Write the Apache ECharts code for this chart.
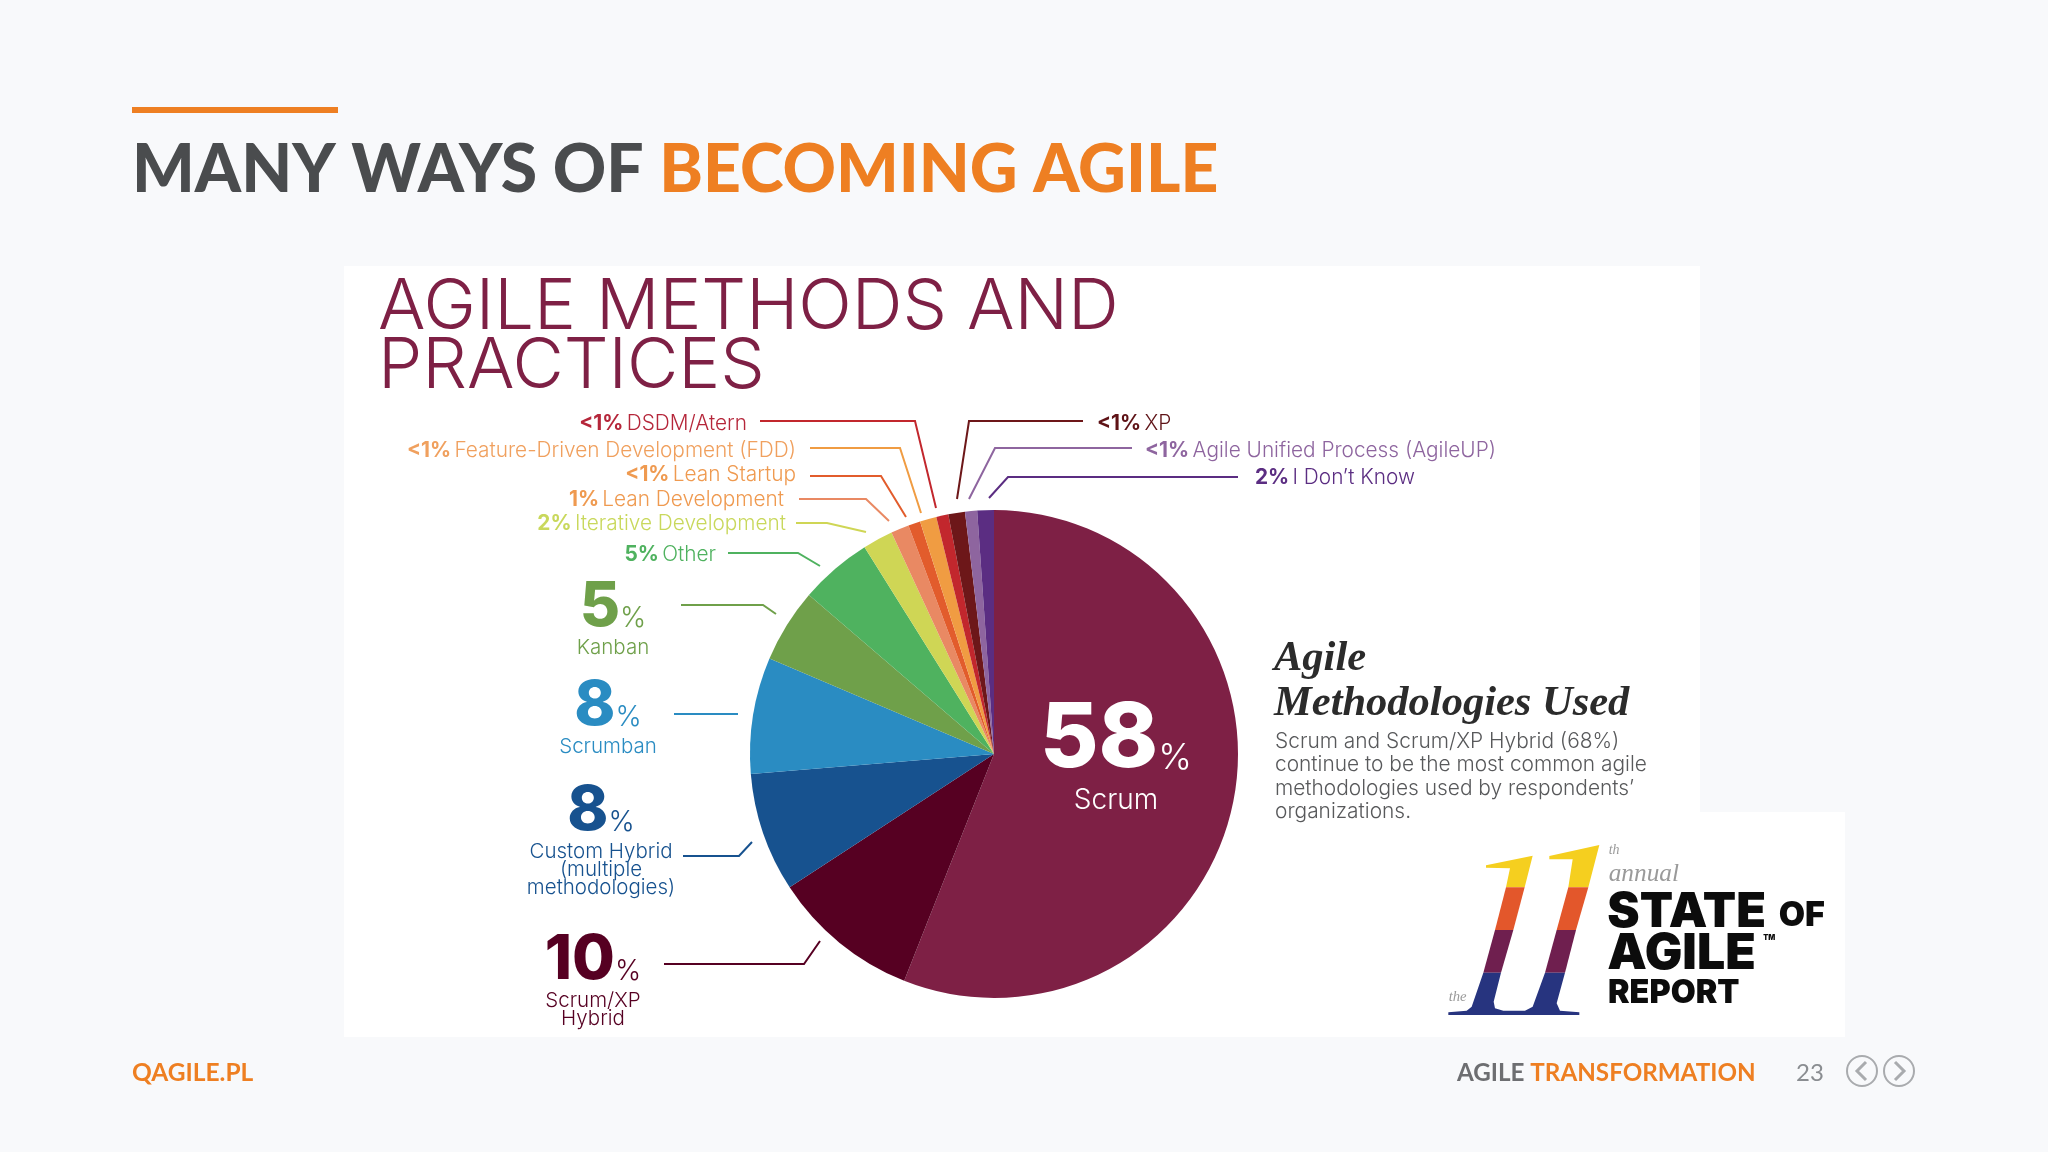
<!DOCTYPE html>
<html>
<head>
<meta charset="utf-8">
<title>Many ways of becoming agile</title>
<script src="https://cdn.jsdelivr.net/npm/echarts@6/dist/echarts.min.js"></script>
<style>
  html, body { margin: 0; padding: 0; background: #f8f9fb; }
  #chart-container { width: 2048px; height: 1152px; }
</style>
</head>
<body>
<div id="chart-container"></div>
<script>
// slices clockwise from 12 o'clock
var methods = ["Scrum", "Scrum/XP Hybrid", "Custom Hybrid", "Scrumban", "Kanban", "Other",
  "Iterative Development", "Lean Development", "Lean Startup", "Feature-Driven Development (FDD)",
  "DSDM/Atern", "XP", "Agile Unified Process (AgileUP)", "I Don\u2019t Know"];
// share of the circle as drawn (the drawn arcs differ a bit from the printed numbers)
var drawnShare = [56.0, 9.8, 7.9, 7.7, 4.9, 4.8, 2.0, 1.2, 0.8, 1.1, 0.8, 1.1, 0.8, 1.1];
var printedValue = ["58", "10", "8", "8", "5", "5%", "2%", "1%", "<1%", "<1%", "<1%", "<1%", "<1%", "2%"];
var sliceColors = ["#7e2045", "#560022", "#17528f", "#2a8cc2", "#6fa04a", "#4fb25f", "#cfd655",
  "#e98963", "#e25c2c", "#f09c42", "#c2272d", "#6d1719", "#8e659f", "#5b2d82"];
var textColors = ["#ffffff", "#560022", "#17528f", "#2a8cc2", "#6fa04a", "#4fb25f", "#c9d85c",
  "#ef9a50", "#ef9a50", "#f0a05e", "#b5263a", "#5e1216", "#8e659f", "#5b2d82"];

// label anchors and leader lines, same order as the slices
var labelPos = [
  { x: 1116, y: 755, align: "center" },
  { x: 593, y: 978, align: "center" },
  { x: 601, y: 838, align: "center" },
  { x: 608, y: 715, align: "center" },
  { x: 613, y: 616, align: "center" },
  { x: 716, y: 555, align: "right" },
  { x: 786, y: 524, align: "right" },
  { x: 784, y: 500, align: "right" },
  { x: 796, y: 475, align: "right" },
  { x: 796, y: 451, align: "right" },
  { x: 747, y: 424, align: "right" },
  { x: 1097, y: 424, align: "left" },
  { x: 1145, y: 451, align: "left" },
  { x: 1255, y: 478, align: "left" }
];
var leaders = [
  null,
  [[664, 964], [804, 964], [820, 941]],
  [[683, 856], [739, 856], [752, 842]],
  [[674, 714], [706, 714], [738, 714]],
  [[681, 605], [763, 605], [776, 614]],
  [[728, 553], [798, 553], [820, 566]],
  [[796, 523], [827, 523], [866, 532]],
  [[799, 499], [866, 499], [889, 521]],
  [[810, 476], [881, 476], [906, 517]],
  [[810, 448], [900, 448], [921, 513]],
  [[760, 421], [915, 421], [936, 508]],
  [[1083, 421], [969, 421], [957, 499]],
  [[1132, 448], [995, 448], [969, 499]],
  [[1238, 477], [1008, 477], [989, 498]]
];

var LABEL_FONT = "Inter";
var dom = document.getElementById("chart-container");
var myChart = echarts.init(dom, null, { renderer: "canvas" });

function labelFor(i) {
  var color = textColors[i];
  if (i === 0) {
    return {
      formatter: "{n|" + printedValue[i] + "}{p|%}\n{t|" + methods[i] + "}",
      rich: {
        n: { fontFamily: LABEL_FONT, fontWeight: 800, fontSize: 90, color: color, lineHeight: 92 },
        p: { fontFamily: LABEL_FONT, fontWeight: 300, fontSize: 36, color: color, verticalAlign: "bottom", padding: [0, 0, 10, 0] },
        t: { fontFamily: LABEL_FONT, fontWeight: 300, fontSize: 28, color: color, lineHeight: 30 }
      }
    };
  }
  if (i < 5) {
    var nameLines = { 1: "Scrum/XP\nHybrid", 2: "Custom Hybrid\n(multiple\nmethodologies)" }[i] || methods[i];
    var nameText = nameLines.split("\n").map(function (s) { return "{t|" + s + "}"; }).join("\n");
    return {
      formatter: "{n|" + printedValue[i] + "}{p|%}\n" + nameText,
      rich: {
        n: { fontFamily: LABEL_FONT, fontWeight: 800, fontSize: 62, color: color, lineHeight: 64 },
        p: { fontFamily: LABEL_FONT, fontWeight: 300, fontSize: 28, color: color, verticalAlign: "bottom", padding: [0, 0, 6, 0] },
        t: { fontFamily: LABEL_FONT, fontWeight: 300, fontSize: 20.5, color: color, lineHeight: 18 }
      }
    };
  }
  return {
    formatter: "{h|" + printedValue[i] + "} {t|" + methods[i] + "}",
    rich: {
      h: { fontFamily: LABEL_FONT, fontWeight: 700, fontSize: 20.8, color: color },
      t: { fontFamily: LABEL_FONT, fontWeight: 300, fontSize: 20.8, color: color }
    }
  };
}

var pieData = methods.map(function (name, i) {
  return {
    name: name,
    value: drawnShare[i],
    itemStyle: { color: sliceColors[i] },
    label: labelFor(i),
    labelLine: {
      show: !!leaders[i],
      lineStyle: { color: sliceColors[i], width: 2 }
    }
  };
});

// logo outline, in 3x coordinates of the logo box
var logoStripes = [
  { color: "#f5cf1f", points: [[258, 196], [398, 167], [374, 262], [318, 262], [330, 205], [258, 203]] },
  { color: "#f5cf1f", points: [[448, 168], [598, 135], [565, 262], [505, 262], [518, 178], [448, 178]] },
  { color: "#e3572b", points: [[318, 262], [374, 262], [340, 390], [285, 390]] },
  { color: "#e3572b", points: [[505, 262], [565, 262], [528, 390], [470, 390]] },
  { color: "#6f1f4f", points: [[285, 390], [340, 390], [303, 518], [250, 518]] },
  { color: "#6f1f4f", points: [[470, 390], [528, 390], [495, 518], [435, 518]] },
  { color: "#27347f", points: [[250, 518], [303, 518], [281, 605], [285, 625], [310, 632], [375, 632], [398, 620],
    [435, 518], [495, 518], [470, 610], [480, 632], [538, 637], [538, 645], [145, 645], [145, 637], [200, 632], [215, 620]] }
];

function logoText(text, x, y, fontSize, fontWeight, font, color, italic) {
  return {
    type: "text", x: x, y: y,
    style: {
      text: text, fill: color, fontFamily: font, fontSize: fontSize, fontWeight: fontWeight,
      fontStyle: italic ? "italic" : "normal", textVerticalAlign: "middle"
    }
  };
}

var logoParts = logoStripes.map(function (s) {
  return { type: "polygon", shape: { points: s.points }, style: { fill: s.color } };
}).concat([
  logoText("th", 626, 150, 42, 400, "Liberation Serif", "#9a9a9a", true),
  logoText("annual", 626, 222, 76, 400, "Liberation Serif", "#9a9a9a", true),
  logoText("the", 146, 592, 44, 400, "Liberation Serif", "#9a9a9a", true),
  logoText("STATE", 622, 336, 146, 900, "Inter", "#0c0c0c"),
  logoText("OF", 1136, 348, 102, 900, "Inter", "#0c0c0c"),
  logoText("AGILE", 622, 463, 150, 900, "Inter", "#0c0c0c"),
  logoText("TM", 1090, 413, 22, 900, "Inter", "#0c0c0c"),
  logoText("REPORT", 624, 580, 97, 900, "Inter", "#0c0c0c")
]);

function slideText(text, x, y, style) {
  return {
    type: "text", x: x, y: y,
    style: Object.assign({ text: text, textVerticalAlign: "middle" }, style)
  };
}

function navButton(cx, cy, dir) {
  return [
    { type: "circle", shape: { cx: cx, cy: cy, r: 15 }, style: { fill: "none", stroke: "#a9abae", lineWidth: 2 } },
    { type: "polyline",
      shape: { points: [[cx - 4 * dir, cy - 9], [cx + 5 * dir, cy], [cx - 4 * dir, cy + 9]] },
      style: { fill: "none", stroke: "#a9abae", lineWidth: 3 } }
  ];
}

var bodyLines = ["Scrum and Scrum/XP Hybrid (68%)", "continue to be the most common agile",
  "methodologies used by respondents\u2019", "organizations."];
var bodyY = [742, 765, 789, 812];

var graphicElements = [
  // white picture on the slide
  { type: "rect", z: -10, shape: { x: 344, y: 266, width: 1356, height: 771 }, style: { fill: "#ffffff" } },
  { type: "rect", z: -10, shape: { x: 1700, y: 812, width: 145, height: 225 }, style: { fill: "#ffffff" } },
  // slide heading
  { type: "rect", shape: { x: 132, y: 107, width: 206, height: 6 }, style: { fill: "#ee7f22" } },
  {
    type: "text", x: 132, y: 171,
    style: {
      text: "{a|MANY WAYS OF }{b|BECOMING AGILE}", textVerticalAlign: "middle",
      rich: {
        a: { fontFamily: "Lato", fontWeight: 900, fontSize: 66, fill: "#4a4c4e" },
        b: { fontFamily: "Lato", fontWeight: 900, fontSize: 66, fill: "#ee7f22" }
      }
    }
  },
  // picture heading
  slideText("AGILE METHODS AND", 378, 308, { fontFamily: "Inter", fontWeight: 300, fontSize: 70.5, fill: "#7e2045" }),
  slideText("PRACTICES", 378, 367, { fontFamily: "Inter", fontWeight: 300, fontSize: 70.5, fill: "#7e2045" }),
  // side note
  slideText("Agile", 1274, 659, { fontFamily: "Liberation Serif", fontStyle: "italic", fontWeight: 700, fontSize: 42.5, fill: "#2b2b2b" }),
  slideText("Methodologies Used", 1274, 704, { fontFamily: "Liberation Serif", fontStyle: "italic", fontWeight: 700, fontSize: 42.5, fill: "#2b2b2b" })
].concat(bodyLines.map(function (line, i) {
  return slideText(line, 1275, bodyY[i], { fontFamily: "Inter", fontWeight: 300, fontSize: 20.9, fill: "#58595b" });
})).concat([
  { type: "group", x: 1400, y: 800, scaleX: 1 / 3, scaleY: 1 / 3, children: logoParts },
  // footer
  slideText("QAGILE.PL", 132, 1073, { fontFamily: "Lato", fontWeight: 700, fontSize: 24.5, fill: "#ee7f22" }),
  {
    type: "text", x: 1457, y: 1073,
    style: {
      text: "{a|AGILE }{b|TRANSFORMATION}", textVerticalAlign: "middle",
      rich: {
        a: { fontFamily: "Lato", fontWeight: 700, fontSize: 24.2, fill: "#6d6e71" },
        b: { fontFamily: "Lato", fontWeight: 700, fontSize: 24.2, fill: "#ee7f22" }
      }
    }
  },
  slideText("23", 1796, 1073, { fontFamily: "Lato", fontWeight: 400, fontSize: 24, fill: "#8a8d91" })
]).concat(navButton(1862, 1071, -1)).concat(navButton(1899, 1071, 1));

var option = {
  backgroundColor: "#f8f9fb",
  animation: false,
  graphic: { elements: graphicElements },
  series: [
    {
      type: "pie",
      center: [994, 754],
      radius: [0, 244],
      startAngle: 90,
      clockwise: true,
      avoidLabelOverlap: false,
      minAngle: 0,
      data: pieData,
      itemStyle: { borderWidth: 0 },
      label: { show: true, position: "outside", color: "#333" },
      labelLine: { show: true, smooth: false },
      labelLayout: function (params) {
        var p = labelPos[params.dataIndex];
        var out = { x: p.x, y: p.y, align: p.align, verticalAlign: "middle" };
        if (leaders[params.dataIndex]) out.labelLinePoints = leaders[params.dataIndex];
        return out;
      }
    }
  ]
};

myChart.setOption(option);
window.addEventListener("resize", myChart.resize);
</script>
</body>
</html>
